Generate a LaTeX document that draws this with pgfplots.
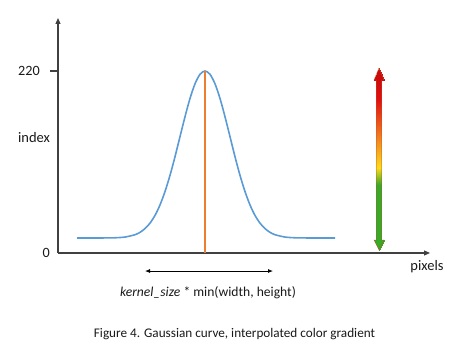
\documentclass[border=0pt]{standalone}
\usepackage{fontspec}
\setmainfont{Carlito}
\usepackage{pgfplots}
\pgfplotsset{compat=1.18}
\usetikzlibrary{arrows.meta}
\definecolor{axgray}{RGB}{64,64,64}
\definecolor{txt}{RGB}{25,25,25}
\definecolor{gblue}{RGB}{91,155,213}
\definecolor{gorange}{RGB}{237,125,49}
\definecolor{cred}{RGB}{225,15,15}
\definecolor{cdred}{RGB}{205,10,10}
\definecolor{corange}{RGB}{240,120,30}
\definecolor{cyellow}{RGB}{250,220,25}
\definecolor{cgreen}{RGB}{55,170,40}
\definecolor{outl}{RGB}{190,80,50}
\begin{document}
\begin{tikzpicture}
\useasboundingbox (0,0) rectangle (474pt,353pt);
\begin{axis}[
  at={(58pt,100pt)}, anchor=south west,
  scale only axis, width=372pt, height=235pt,
  xmin=58, xmax=430, ymin=0, ymax=284.07,
  clip=false,
  axis lines=left,
  x axis line style={draw=axgray, line width=1.1pt, -{Triangle[length=6pt,width=5pt]}},
  y axis line style={draw=axgray, line width=1.1pt, -{Triangle[length=6pt,width=5pt]}},
  xtick=\empty,
  ytick={220},
  tick align=outside,
  major tick length=8pt,
  ytick style={draw=axgray, line width=1.1pt},
  extra y ticks={0},
  extra y tick style={major tick length=0pt, ytick style={draw=none}, yticklabel style={xshift=2pt}},
  /pgf/number format/assume math mode=true,
  yticklabel style={font=\fontsize{14.2}{16}\selectfont, text=txt, inner sep=0pt, xshift=-10pt},
]
% Gaussian curve (pixels vs index)
\addplot[gblue, line width=1.6pt, smooth] coordinates {
(77,18.1) (95,18.15) (105,18.2) (115,18.4) (125,19.3) (135,22.1) (140,25.0) (145,29.5)
(150,36.1) (155,45.4) (160,58.1) (165,74.3) (170,93.9) (175,116.4) (180,140.6)
(185,164.7) (190,186.8) (195,204.5) (200,216.0) (205,220.0) (210,216.0) (215,204.5)
(220,186.8) (225,164.7) (230,140.6) (235,116.4) (240,93.9) (245,74.3) (250,58.1)
(255,45.4) (260,36.1) (265,29.5) (270,25.0) (275,22.1) (285,19.3) (295,18.4)
(305,18.2) (315,18.15) (335,18.1)
};
% centre line
\addplot[gorange, line width=1.3pt] coordinates {(205,0) (205,220)};
% kernel width double arrow
\addplot[black, line width=0.8pt, {Latex[length=5pt,width=4pt]}-{Latex[length=5pt,width=4pt]}] coordinates {(145,-21.8) (273,-21.8)};
% colour gradient shaft
\addplot[patch, patch type=rectangle, shader=interp, mesh/color input=explicit] table[meta=c] {
x y c
376.5 15.7 color=cgreen
381.5 15.7 color=cgreen
381.5 82.2 color=cgreen
376.5 82.2 color=cgreen
376.5 82.2 color=cgreen
381.5 82.2 color=cgreen
381.5 102.7 color=cyellow
376.5 102.7 color=cyellow
376.5 102.7 color=cyellow
381.5 102.7 color=cyellow
381.5 142.6 color=corange
376.5 142.6 color=corange
376.5 142.6 color=corange
381.5 142.6 color=corange
381.5 184.9 color=cred
376.5 184.9 color=cred
376.5 184.9 color=cred
381.5 184.9 color=cred
381.5 209.1 color=cdred
376.5 209.1 color=cdred
};
% arrow heads
\addplot[patch, shader=interp, mesh/color input=explicit] table[meta=c] {
x y c
374 209.1 color=cdred
384 209.1 color=cdred
379 223.6 color=cdred
374 15.7 color=cgreen
384 15.7 color=cgreen
379 3.6 color=cgreen
};
% outline of gradient arrow
\addplot[outl, line width=0.4pt] coordinates {
(379,223.6) (384,209.1) (381.5,209.1) (381.5,15.7) (384,15.7) (379,3.6)
(374,15.7) (376.5,15.7) (376.5,209.1) (374,209.1) (379,223.6)
};
% labels
\node[text=txt, font=\fontsize{14.5}{16}\selectfont] at (axis cs:34,140.2) {index};
\node[text=txt, font=\fontsize{14.5}{16}\selectfont] at (axis cs:427,-16) {pixels};
\node[text=txt, font=\fontsize{13.6}{16}\selectfont] at (axis cs:208,-47.5) {\textit{kernel\_size} * min(width, height)};
\node[text=txt, font=\fontsize{13.2}{15}\selectfont] at (axis cs:234.5,-97.5) {Figure 4. Gaussian curve, interpolated color gradient};
\end{axis}
\end{tikzpicture}
\end{document}
